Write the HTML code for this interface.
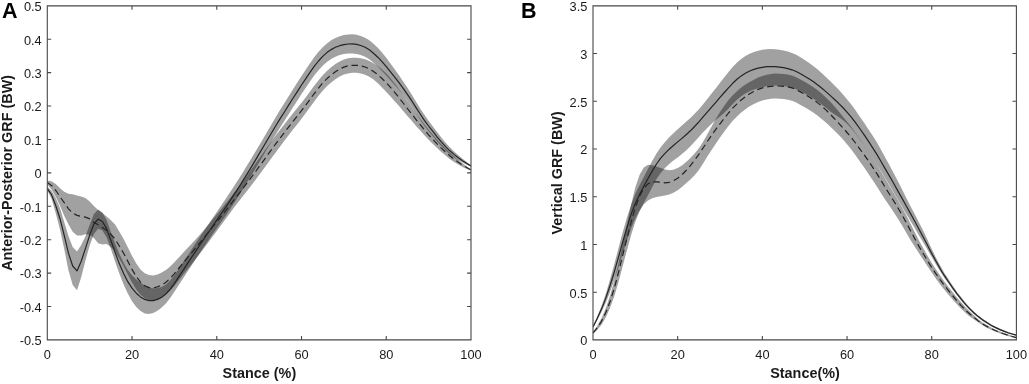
<!DOCTYPE html>
<html><head><meta charset="utf-8"><title>GRF</title>
<style>
html,body{margin:0;padding:0;background:#fff}
svg{display:block}
text{font-family:"Liberation Sans",sans-serif;fill:#1a1a1a}
.tk{font-size:12.8px}
.lb{font-size:14.4px;font-weight:bold}
.pl{font-size:21.5px;font-weight:bold;fill:#000}
.bd{fill:#000;fill-opacity:0.37;stroke:none}
.ln{fill:none;stroke:#242424;stroke-width:1.2;stroke-linejoin:round}
.ds{stroke-dasharray:6.5 3.9}
</style></head><body>
<svg width="1029" height="384" viewBox="0 0 1029 384">
<rect width="1029" height="384" fill="#fff"/>
<clipPath id="ca"><rect x="47.3" y="5.85" width="423.7" height="334.04999999999995"/></clipPath>
<g clip-path="url(#ca)">
<path d="M47.3,186.5 L51.5,190.8 L55.8,198.2 L60.0,208.0 L64.2,222.0 L68.5,236.2 L72.7,247.1 L77.0,251.5 L81.2,245.0 L85.4,236.4 L89.7,224.8 L93.9,214.0 L98.1,209.4 L102.4,212.4 L106.6,220.1 L110.9,231.9 L115.1,243.2 L119.3,253.7 L123.6,262.7 L127.8,269.9 L132.0,275.3 L136.3,279.4 L140.5,282.7 L144.8,285.4 L149.0,287.4 L153.2,288.3 L157.5,288.1 L161.7,286.9 L165.9,284.4 L170.2,280.4 L174.4,275.0 L178.6,268.9 L182.9,262.6 L187.1,256.2 L191.4,249.7 L195.6,243.3 L199.8,237.0 L204.1,230.7 L208.3,224.5 L212.5,218.2 L216.8,212.0 L221.0,205.7 L225.3,199.4 L229.5,193.1 L233.7,186.7 L238.0,180.1 L242.2,173.4 L246.4,166.6 L250.7,159.6 L254.9,152.6 L259.1,145.4 L263.4,138.2 L267.6,130.9 L271.9,123.7 L276.1,116.6 L280.3,109.6 L284.6,102.7 L288.8,96.0 L293.0,89.2 L297.3,82.5 L301.5,75.9 L305.8,69.4 L310.0,63.2 L314.2,57.2 L318.5,51.8 L322.7,47.2 L326.9,43.4 L331.2,40.3 L335.4,37.9 L339.7,36.2 L343.9,35.1 L348.1,34.5 L352.4,34.3 L356.6,34.8 L360.8,35.9 L365.1,37.7 L369.3,40.3 L373.5,43.7 L377.8,47.8 L382.0,52.5 L386.3,57.8 L390.5,63.5 L394.7,69.3 L399.0,75.3 L403.2,81.4 L407.4,87.8 L411.7,94.5 L415.9,101.5 L420.2,108.4 L424.4,114.8 L428.6,120.8 L432.9,126.5 L437.1,132.1 L441.3,137.6 L445.6,142.7 L449.8,147.2 L454.1,151.4 L458.3,155.2 L462.5,158.7 L466.8,162.1 L471.0,165.4 L471.0,166.6 L466.8,164.7 L462.5,162.6 L458.3,160.2 L454.1,157.4 L449.8,154.3 L445.6,150.6 L441.3,146.2 L437.1,141.4 L432.9,136.3 L428.6,131.2 L424.4,125.7 L420.2,119.7 L415.9,113.3 L411.7,106.8 L407.4,100.7 L403.2,95.1 L399.0,90.0 L394.7,85.1 L390.5,80.2 L386.3,75.5 L382.0,71.0 L377.8,66.6 L373.5,62.7 L369.3,59.3 L365.1,56.8 L360.8,55.0 L356.6,54.0 L352.4,53.5 L348.1,53.6 L343.9,54.1 L339.7,55.1 L335.4,56.7 L331.2,58.9 L326.9,61.9 L322.7,65.7 L318.5,70.2 L314.2,75.6 L310.0,81.5 L305.8,87.7 L301.5,94.1 L297.3,100.7 L293.0,107.3 L288.8,113.9 L284.6,120.6 L280.3,127.3 L276.1,134.0 L271.9,141.0 L267.6,148.1 L263.4,155.2 L259.1,162.4 L254.9,169.6 L250.7,176.6 L246.4,183.6 L242.2,190.4 L238.0,197.1 L233.7,203.7 L229.5,210.0 L225.3,216.2 L221.0,222.3 L216.8,228.3 L212.5,234.3 L208.3,240.5 L204.1,246.7 L199.8,253.0 L195.6,259.3 L191.4,265.7 L187.1,272.2 L182.9,278.7 L178.6,285.2 L174.4,291.8 L170.2,298.1 L165.9,303.4 L161.7,307.6 L157.5,310.7 L153.2,312.9 L149.0,313.9 L144.8,313.4 L140.5,311.1 L136.3,307.0 L132.0,301.2 L127.8,293.6 L123.6,284.4 L119.3,273.6 L115.1,261.6 L110.9,249.1 L106.6,237.2 L102.4,230.6 L98.1,228.8 L93.9,234.0 L89.7,245.4 L85.4,260.7 L81.2,277.3 L77.0,290.3 L72.7,284.9 L68.5,270.6 L64.2,248.9 L60.0,229.4 L55.8,213.5 L51.5,198.6 L47.3,190.5Z" class="bd"/>
<path d="M47.3,180.5 L51.5,181.2 L55.8,184.1 L60.0,188.3 L64.2,191.7 L68.5,193.7 L72.7,194.2 L77.0,195.4 L81.2,196.5 L85.4,198.1 L89.7,201.4 L93.9,206.1 L98.1,209.9 L102.4,213.1 L106.6,216.5 L110.9,220.2 L115.1,224.6 L119.3,231.5 L123.6,238.9 L127.8,247.2 L132.0,255.8 L136.3,263.6 L140.5,269.4 L144.8,273.2 L149.0,275.1 L153.2,275.4 L157.5,274.4 L161.7,272.6 L165.9,270.0 L170.2,266.5 L174.4,262.3 L178.6,257.8 L182.9,253.1 L187.1,248.5 L191.4,244.0 L195.6,239.4 L199.8,234.7 L204.1,229.8 L208.3,224.7 L212.5,219.6 L216.8,214.5 L221.0,209.4 L225.3,204.1 L229.5,198.7 L233.7,193.3 L238.0,187.8 L242.2,182.2 L246.4,176.4 L250.7,170.5 L254.9,164.5 L259.1,158.4 L263.4,152.4 L267.6,146.5 L271.9,140.7 L276.1,135.0 L280.3,129.4 L284.6,123.9 L288.8,118.5 L293.0,113.2 L297.3,108.0 L301.5,102.7 L305.8,97.2 L310.0,91.4 L314.2,85.7 L318.5,80.3 L322.7,75.3 L326.9,71.0 L331.2,67.3 L335.4,64.1 L339.7,61.5 L343.9,59.5 L348.1,58.3 L352.4,57.8 L356.6,57.8 L360.8,58.2 L365.1,59.3 L369.3,60.9 L373.5,63.2 L377.8,66.0 L382.0,69.4 L386.3,73.4 L390.5,78.2 L394.7,83.5 L399.0,89.2 L403.2,95.1 L407.4,101.1 L411.7,107.1 L415.9,113.0 L420.2,118.8 L424.4,124.4 L428.6,129.7 L432.9,134.8 L437.1,139.6 L441.3,144.2 L445.6,148.5 L449.8,152.6 L454.1,156.3 L458.3,159.9 L462.5,163.2 L466.8,166.4 L471.0,169.4 L471.0,170.6 L466.8,168.9 L462.5,166.9 L458.3,164.6 L454.1,161.9 L449.8,158.9 L445.6,155.5 L441.3,152.0 L437.1,148.1 L432.9,144.1 L428.6,139.8 L424.4,135.3 L420.2,130.6 L415.9,125.7 L411.7,120.8 L407.4,115.9 L403.2,110.9 L399.0,106.0 L394.7,101.2 L390.5,96.5 L386.3,92.0 L382.0,87.6 L377.8,83.3 L373.5,79.6 L369.3,76.7 L365.1,74.7 L360.8,73.4 L356.6,72.8 L352.4,72.8 L348.1,73.4 L343.9,74.6 L339.7,76.6 L335.4,79.2 L331.2,82.5 L326.9,86.3 L322.7,90.7 L318.5,95.8 L314.2,101.4 L310.0,107.3 L305.8,113.1 L301.5,118.8 L297.3,124.2 L293.0,129.6 L288.8,135.0 L284.6,140.6 L280.3,146.2 L276.1,151.9 L271.9,157.6 L267.6,163.4 L263.4,169.2 L259.1,175.0 L254.9,180.7 L250.7,186.2 L246.4,191.7 L242.2,197.1 L238.0,202.5 L233.7,208.0 L229.5,213.7 L225.3,219.4 L221.0,225.2 L216.8,231.0 L212.5,236.7 L208.3,242.4 L204.1,248.1 L199.8,253.8 L195.6,259.2 L191.4,264.5 L187.1,269.8 L182.9,275.1 L178.6,280.6 L174.4,285.9 L170.2,290.8 L165.9,294.8 L161.7,297.6 L157.5,299.4 L153.2,300.4 L149.0,300.1 L144.8,298.3 L140.5,294.8 L136.3,289.6 L132.0,282.6 L127.8,274.4 L123.6,266.2 L119.3,258.7 L115.1,251.6 L110.9,246.9 L106.6,244.1 L102.4,244.5 L98.1,243.2 L93.9,238.1 L89.7,234.7 L85.4,234.3 L81.2,235.5 L77.0,235.6 L72.7,231.8 L68.5,224.5 L64.2,215.8 L60.0,205.8 L55.8,196.9 L51.5,189.5 L47.3,184.6Z" class="bd"/>
<path d="M47.3,188.5 L51.5,194.7 L55.8,205.8 L60.0,218.7 L64.2,235.4 L68.5,253.4 L72.7,266.0 L77.0,270.9 L81.2,261.2 L85.4,248.6 L89.7,235.1 L93.9,224.0 L98.1,219.1 L102.4,221.5 L106.6,228.6 L110.9,240.5 L115.1,252.4 L119.3,263.6 L123.6,273.5 L127.8,281.7 L132.0,288.2 L136.3,293.2 L140.5,296.9 L144.8,299.4 L149.0,300.6 L153.2,300.6 L157.5,299.4 L161.7,297.2 L165.9,293.9 L170.2,289.2 L174.4,283.4 L178.6,277.1 L182.9,270.6 L187.1,264.2 L191.4,257.7 L195.6,251.3 L199.8,245.0 L204.1,238.7 L208.3,232.5 L212.5,226.3 L216.8,220.1 L221.0,214.0 L225.3,207.8 L229.5,201.6 L233.7,195.2 L238.0,188.6 L242.2,181.9 L246.4,175.1 L250.7,168.1 L254.9,161.1 L259.1,153.9 L263.4,146.7 L267.6,139.5 L271.9,132.3 L276.1,125.3 L280.3,118.4 L284.6,111.7 L288.8,104.9 L293.0,98.2 L297.3,91.6 L301.5,85.0 L305.8,78.6 L310.0,72.3 L314.2,66.4 L318.5,61.0 L322.7,56.4 L326.9,52.6 L331.2,49.6 L335.4,47.3 L339.7,45.7 L343.9,44.6 L348.1,44.0 L352.4,43.9 L356.6,44.4 L360.8,45.5 L365.1,47.2 L369.3,49.8 L373.5,53.2 L377.8,57.2 L382.0,61.7 L386.3,66.7 L390.5,71.9 L394.7,77.2 L399.0,82.6 L403.2,88.3 L407.4,94.3 L411.7,100.7 L415.9,107.4 L420.2,114.0 L424.4,120.3 L428.6,126.0 L432.9,131.4 L437.1,136.8 L441.3,141.9 L445.6,146.6 L449.8,150.8 L454.1,154.4 L458.3,157.7 L462.5,160.7 L466.8,163.4 L471.0,166.0" class="ln"/>
<path d="M47.3,182.5 L51.5,185.4 L55.8,190.5 L60.0,196.8 L64.2,202.7 L68.5,208.8 L72.7,213.1 L77.0,215.4 L81.2,216.4 L85.4,217.1 L89.7,218.9 L93.9,222.2 L98.1,224.8 L102.4,227.4 L106.6,230.5 L110.9,234.4 L115.1,239.1 L119.3,246.0 L123.6,253.2 L127.8,261.2 L132.0,269.4 L136.3,276.6 L140.5,282.1 L144.8,285.8 L149.0,287.6 L153.2,287.9 L157.5,286.9 L161.7,285.1 L165.9,282.3 L170.2,278.4 L174.4,273.7 L178.6,268.5 L182.9,263.3 L187.1,258.1 L191.4,253.1 L195.6,248.1 L199.8,243.0 L204.1,237.7 L208.3,232.4 L212.5,227.2 L216.8,221.9 L221.0,216.6 L225.3,211.2 L229.5,205.8 L233.7,200.3 L238.0,194.9 L242.2,189.4 L246.4,183.8 L250.7,178.2 L254.9,172.5 L259.1,166.6 L263.4,160.8 L267.6,154.9 L271.9,149.1 L276.1,143.4 L280.3,137.8 L284.6,132.2 L288.8,126.8 L293.0,121.4 L297.3,116.1 L301.5,110.7 L305.8,105.1 L310.0,99.4 L314.2,93.6 L318.5,88.1 L322.7,83.0 L326.9,78.7 L331.2,74.9 L335.4,71.7 L339.7,69.0 L343.9,67.1 L348.1,65.8 L352.4,65.3 L356.6,65.3 L360.8,65.8 L365.1,67.0 L369.3,68.8 L373.5,71.4 L377.8,74.7 L382.0,78.5 L386.3,82.7 L390.5,87.4 L394.7,92.3 L399.0,97.6 L403.2,103.0 L407.4,108.5 L411.7,114.0 L415.9,119.4 L420.2,124.7 L424.4,129.8 L428.6,134.8 L432.9,139.4 L437.1,143.9 L441.3,148.1 L445.6,152.0 L449.8,155.7 L454.1,159.1 L458.3,162.2 L462.5,165.0 L466.8,167.6 L471.0,170.0" class="ln ds"/>
</g>
<clipPath id="cb"><rect x="593.0" y="5.85" width="423.4" height="334.04999999999995"/></clipPath>
<g clip-path="url(#cb)">
<path d="M593.0,326.2 L597.2,316.6 L601.5,306.1 L605.7,294.0 L609.9,280.1 L614.2,264.6 L618.4,248.5 L622.6,232.6 L626.9,217.8 L631.1,204.7 L635.3,194.0 L639.6,185.1 L643.8,177.0 L648.0,168.8 L652.3,160.8 L656.5,153.5 L660.7,147.3 L665.0,142.0 L669.2,137.3 L673.4,133.2 L677.7,129.3 L681.9,125.5 L686.1,121.8 L690.4,118.0 L694.6,113.8 L698.9,109.2 L703.1,104.2 L707.3,99.0 L711.6,93.6 L715.8,88.2 L720.0,82.7 L724.3,77.2 L728.5,71.9 L732.7,67.0 L737.0,62.6 L741.2,59.0 L745.4,56.0 L749.7,53.7 L753.9,52.0 L758.1,50.8 L762.4,49.8 L766.6,49.2 L770.8,49.0 L775.1,49.2 L779.3,49.7 L783.5,50.5 L787.8,51.5 L792.0,52.9 L796.2,54.8 L800.5,57.2 L804.7,59.9 L808.9,62.8 L813.2,66.0 L817.4,69.3 L821.6,72.9 L825.9,76.9 L830.1,81.0 L834.3,85.3 L838.6,89.6 L842.8,94.2 L847.0,99.2 L851.3,104.5 L855.5,110.3 L859.7,116.4 L864.0,122.6 L868.2,128.9 L872.4,135.3 L876.7,142.1 L880.9,149.4 L885.1,157.2 L889.4,165.1 L893.6,172.9 L897.8,181.1 L902.1,189.6 L906.3,198.1 L910.5,206.3 L914.8,214.3 L919.0,222.4 L923.3,230.8 L927.5,239.8 L931.7,248.9 L936.0,257.7 L940.2,265.6 L944.4,272.9 L948.7,279.6 L952.9,285.9 L957.1,291.9 L961.4,297.6 L965.6,302.8 L969.8,307.5 L974.1,311.7 L978.3,315.5 L982.5,318.7 L986.8,321.6 L991.0,324.2 L995.2,326.5 L999.5,328.5 L1003.7,330.3 L1007.9,331.8 L1012.2,333.2 L1016.4,334.4 L1016.4,336.0 L1012.2,334.8 L1007.9,333.5 L1003.7,332.0 L999.5,330.3 L995.2,328.3 L991.0,326.2 L986.8,323.7 L982.5,320.9 L978.3,317.8 L974.1,314.2 L969.8,310.2 L965.6,305.7 L961.4,300.9 L957.1,295.6 L952.9,290.0 L948.7,284.1 L944.4,278.0 L940.2,271.5 L936.0,264.4 L931.7,257.1 L927.5,249.7 L923.3,242.5 L919.0,235.4 L914.8,228.2 L910.5,221.0 L906.3,213.9 L902.1,206.7 L897.8,199.4 L893.6,192.2 L889.4,185.1 L885.1,178.1 L880.9,171.1 L876.7,164.2 L872.4,157.6 L868.2,151.4 L864.0,145.3 L859.7,139.3 L855.5,133.5 L851.3,128.3 L847.0,123.7 L842.8,120.0 L838.6,117.1 L834.3,114.3 L830.1,111.2 L825.9,107.8 L821.6,104.5 L817.4,101.4 L813.2,98.5 L808.9,95.8 L804.7,93.4 L800.5,91.2 L796.2,89.3 L792.0,87.8 L787.8,86.8 L783.5,86.1 L779.3,85.7 L775.1,85.5 L770.8,85.7 L766.6,86.3 L762.4,87.2 L758.1,88.3 L753.9,89.6 L749.7,91.3 L745.4,93.5 L741.2,96.3 L737.0,99.8 L732.7,104.0 L728.5,108.5 L724.3,112.7 L720.0,116.5 L715.8,120.0 L711.6,123.7 L707.3,127.9 L703.1,132.3 L698.9,137.0 L694.6,141.7 L690.4,146.3 L686.1,150.5 L681.9,154.1 L677.7,157.4 L673.4,160.6 L669.2,164.0 L665.0,168.0 L660.7,172.9 L656.5,179.1 L652.3,186.9 L648.0,195.2 L643.8,203.1 L639.6,210.5 L635.3,218.6 L631.1,228.5 L626.9,240.6 L622.6,253.9 L618.4,267.4 L614.2,280.3 L609.9,292.2 L605.7,302.9 L601.5,312.1 L597.2,320.3 L593.0,327.8Z" class="bd"/>
<path d="M593.0,332.2 L597.2,326.0 L601.5,318.3 L605.7,308.5 L609.9,296.2 L614.2,281.1 L618.4,263.5 L622.6,244.2 L626.9,224.2 L631.1,204.7 L635.3,187.5 L639.6,174.7 L643.8,167.4 L648.0,164.8 L652.3,165.2 L656.5,166.5 L660.7,168.1 L665.0,169.6 L669.2,170.2 L673.4,169.7 L677.7,168.0 L681.9,165.4 L686.1,162.0 L690.4,158.1 L694.6,153.6 L698.9,148.3 L703.1,141.8 L707.3,134.3 L711.6,126.5 L715.8,119.0 L720.0,112.0 L724.3,105.8 L728.5,100.1 L732.7,95.3 L737.0,91.2 L741.2,87.6 L745.4,84.6 L749.7,82.0 L753.9,79.7 L758.1,77.6 L762.4,75.9 L766.6,74.7 L770.8,74.0 L775.1,73.6 L779.3,73.7 L783.5,73.9 L787.8,74.4 L792.0,75.4 L796.2,77.2 L800.5,79.4 L804.7,81.8 L808.9,84.3 L813.2,87.0 L817.4,90.1 L821.6,93.5 L825.9,97.4 L830.1,101.6 L834.3,106.2 L838.6,111.2 L842.8,116.4 L847.0,121.7 L851.3,127.1 L855.5,132.8 L859.7,138.8 L864.0,145.0 L868.2,151.2 L872.4,157.6 L876.7,164.3 L880.9,171.4 L885.1,178.6 L889.4,185.7 L893.6,192.7 L897.8,199.9 L902.1,207.4 L906.3,215.3 L910.5,223.7 L914.8,232.2 L919.0,240.5 L923.3,248.3 L927.5,255.8 L931.7,262.8 L936.0,269.4 L940.2,275.6 L944.4,281.5 L948.7,287.2 L952.9,292.6 L957.1,297.8 L961.4,302.6 L965.6,307.2 L969.8,311.5 L974.1,315.5 L978.3,319.2 L982.5,322.4 L986.8,325.1 L991.0,327.5 L995.2,329.5 L999.5,331.3 L1003.7,332.9 L1007.9,334.3 L1012.2,335.7 L1016.4,336.9 L1016.4,338.5 L1012.2,337.3 L1007.9,336.0 L1003.7,334.7 L999.5,333.2 L995.2,331.6 L991.0,329.8 L986.8,327.7 L982.5,325.3 L978.3,322.6 L974.1,319.6 L969.8,316.5 L965.6,313.0 L961.4,309.0 L957.1,304.6 L952.9,299.8 L948.7,294.9 L944.4,289.8 L940.2,284.4 L936.0,278.8 L931.7,272.6 L927.5,266.2 L923.3,259.7 L919.0,253.3 L914.8,246.7 L910.5,239.9 L906.3,232.7 L902.1,225.5 L897.8,218.6 L893.6,212.1 L889.4,205.8 L885.1,199.5 L880.9,193.0 L876.7,186.3 L872.4,179.7 L868.2,173.4 L864.0,167.3 L859.7,161.2 L855.5,155.2 L851.3,149.5 L847.0,144.3 L842.8,139.3 L838.6,134.8 L834.3,130.5 L830.1,126.4 L825.9,122.6 L821.6,118.9 L817.4,115.6 L813.2,112.5 L808.9,109.8 L804.7,107.3 L800.5,104.9 L796.2,102.6 L792.0,100.8 L787.8,99.7 L783.5,99.0 L779.3,98.7 L775.1,98.6 L770.8,98.8 L766.6,99.4 L762.4,100.4 L758.1,101.9 L753.9,103.9 L749.7,106.3 L745.4,109.2 L741.2,112.5 L737.0,116.4 L732.7,120.8 L728.5,125.9 L724.3,131.6 L720.0,137.6 L715.8,143.8 L711.6,150.1 L707.3,156.6 L703.1,163.4 L698.9,169.9 L694.6,175.2 L690.4,179.4 L686.1,183.2 L681.9,187.0 L677.7,190.2 L673.4,192.7 L669.2,194.5 L665.0,195.6 L660.7,196.3 L656.5,197.1 L652.3,198.3 L648.0,200.4 L643.8,204.3 L639.6,211.3 L635.3,221.7 L631.1,235.1 L626.9,250.4 L622.6,266.5 L618.4,282.2 L614.2,296.5 L609.9,308.3 L605.7,317.6 L601.5,324.7 L597.2,329.9 L593.0,333.8Z" class="bd"/>
<path d="M593.0,327.0 L597.2,318.4 L601.5,309.1 L605.7,298.4 L609.9,286.0 L614.2,272.2 L618.4,257.4 L622.6,242.3 L626.9,227.6 L631.1,214.4 L635.3,203.5 L639.6,194.4 L643.8,186.3 L648.0,178.5 L652.3,170.9 L656.5,164.0 L660.7,158.2 L665.0,153.4 L669.2,149.2 L673.4,145.5 L677.7,141.9 L681.9,138.4 L686.1,134.7 L690.4,130.8 L694.6,126.5 L698.9,121.8 L703.1,116.9 L707.3,112.1 L711.6,107.2 L715.8,102.3 L720.0,97.4 L724.3,92.5 L728.5,87.8 L732.7,83.3 L737.0,79.3 L741.2,75.9 L745.4,73.2 L749.7,71.0 L753.9,69.4 L758.1,68.2 L762.4,67.3 L766.6,66.7 L770.8,66.5 L775.1,66.6 L779.3,67.1 L783.5,67.7 L787.8,68.6 L792.0,69.8 L796.2,71.5 L800.5,73.7 L804.7,76.2 L808.9,78.8 L813.2,81.6 L817.4,84.7 L821.6,88.0 L825.9,91.6 L830.1,95.4 L834.3,99.3 L838.6,103.3 L842.8,107.5 L847.0,112.1 L851.3,117.1 L855.5,122.6 L859.7,128.5 L864.0,134.6 L868.2,140.9 L872.4,147.3 L876.7,154.1 L880.9,161.2 L885.1,168.6 L889.4,175.9 L893.6,183.3 L897.8,190.9 L902.1,198.4 L906.3,206.0 L910.5,213.6 L914.8,221.3 L919.0,229.2 L923.3,237.2 L927.5,245.2 L931.7,253.4 L936.0,261.3 L940.2,268.8 L944.4,275.7 L948.7,282.0 L952.9,288.1 L957.1,293.8 L961.4,299.3 L965.6,304.3 L969.8,308.9 L974.1,313.0 L978.3,316.6 L982.5,319.8 L986.8,322.6 L991.0,325.2 L995.2,327.4 L999.5,329.4 L1003.7,331.1 L1007.9,332.7 L1012.2,334.0 L1016.4,335.2" class="ln"/>
<path d="M593.0,333.0 L597.2,327.8 L601.5,321.3 L605.7,312.8 L609.9,302.0 L614.2,288.6 L618.4,272.8 L622.6,255.7 L626.9,238.5 L631.1,222.1 L635.3,207.5 L639.6,196.0 L643.8,188.2 L648.0,183.8 L652.3,182.0 L656.5,181.8 L660.7,182.3 L665.0,182.8 L669.2,182.3 L673.4,180.8 L677.7,178.2 L681.9,174.8 L686.1,170.5 L690.4,165.6 L694.6,160.2 L698.9,154.3 L703.1,148.0 L707.3,141.5 L711.6,135.3 L715.8,129.4 L720.0,123.8 L724.3,118.3 L728.5,113.0 L732.7,108.1 L737.0,103.8 L741.2,100.0 L745.4,96.7 L749.7,93.8 L753.9,91.4 L758.1,89.4 L762.4,87.9 L766.6,86.9 L770.8,86.3 L775.1,86.0 L779.3,86.0 L783.5,86.3 L787.8,86.9 L792.0,87.9 L796.2,89.7 L800.5,91.9 L804.7,94.3 L808.9,96.8 L813.2,99.5 L817.4,102.6 L821.6,106.0 L825.9,109.9 L830.1,114.1 L834.3,118.5 L838.6,123.1 L842.8,127.7 L847.0,132.5 L851.3,137.6 L855.5,143.0 L859.7,148.8 L864.0,154.6 L868.2,160.6 L872.4,166.8 L876.7,173.4 L880.9,180.2 L885.1,187.2 L889.4,194.0 L893.6,200.8 L897.8,207.7 L902.1,214.9 L906.3,222.7 L910.5,230.7 L914.8,238.7 L919.0,246.4 L923.3,253.7 L927.5,260.7 L931.7,267.5 L936.0,273.8 L940.2,279.8 L944.4,285.4 L948.7,290.8 L952.9,296.0 L957.1,301.0 L961.4,305.8 L965.6,310.1 L969.8,314.0 L974.1,317.6 L978.3,320.9 L982.5,323.8 L986.8,326.4 L991.0,328.6 L995.2,330.5 L999.5,332.2 L1003.7,333.8 L1007.9,335.2 L1012.2,336.5 L1016.4,337.7" class="ln ds"/>
</g>
<text x="47.3" y="358.8" text-anchor="middle" class="tk">0</text>
<text x="132.0" y="358.8" text-anchor="middle" class="tk">20</text>
<text x="216.8" y="358.8" text-anchor="middle" class="tk">40</text>
<text x="301.5" y="358.8" text-anchor="middle" class="tk">60</text>
<text x="386.3" y="358.8" text-anchor="middle" class="tk">80</text>
<text x="471.0" y="358.8" text-anchor="middle" class="tk">100</text>
<text x="41.7" y="345.2" text-anchor="end" class="tk">-0.5</text>
<text x="41.7" y="311.8" text-anchor="end" class="tk">-0.4</text>
<text x="41.7" y="278.4" text-anchor="end" class="tk">-0.3</text>
<text x="41.7" y="245.0" text-anchor="end" class="tk">-0.2</text>
<text x="41.7" y="211.6" text-anchor="end" class="tk">-0.1</text>
<text x="41.7" y="178.2" text-anchor="end" class="tk">0</text>
<text x="41.7" y="144.8" text-anchor="end" class="tk">0.1</text>
<text x="41.7" y="111.4" text-anchor="end" class="tk">0.2</text>
<text x="41.7" y="78.0" text-anchor="end" class="tk">0.3</text>
<text x="41.7" y="44.6" text-anchor="end" class="tk">0.4</text>
<text x="41.7" y="11.2" text-anchor="end" class="tk">0.5</text>
<path d="M47.3,5.85H471.0V339.9H47.3ZM132.04,339.9v-3.9M132.04,5.85v3.9M216.78,339.9v-3.9M216.78,5.85v3.9M301.52,339.9v-3.9M301.52,5.85v3.9M386.26,339.9v-3.9M386.26,5.85v3.9M47.3,306.50h3.9M471.0,306.50h-3.9M47.3,273.09h3.9M471.0,273.09h-3.9M47.3,239.69h3.9M471.0,239.69h-3.9M47.3,206.28h3.9M471.0,206.28h-3.9M47.3,172.88h3.9M471.0,172.88h-3.9M47.3,139.47h3.9M471.0,139.47h-3.9M47.3,106.07h3.9M471.0,106.07h-3.9M47.3,72.66h3.9M471.0,72.66h-3.9M47.3,39.25h3.9M471.0,39.25h-3.9" fill="none" stroke="#484848" stroke-width="1.1"/>
<text x="259.4" y="378" text-anchor="middle" class="lb">Stance (%)</text>
<text transform="translate(11.9,172.9) rotate(-90)" text-anchor="middle" class="lb">Anterior-Posterior GRF (BW)</text>
<text x="2" y="18" class="pl">A</text>
<text x="593.0" y="358.8" text-anchor="middle" class="tk">0</text>
<text x="677.7" y="358.8" text-anchor="middle" class="tk">20</text>
<text x="762.4" y="358.8" text-anchor="middle" class="tk">40</text>
<text x="847.0" y="358.8" text-anchor="middle" class="tk">60</text>
<text x="931.7" y="358.8" text-anchor="middle" class="tk">80</text>
<text x="1016.4" y="358.8" text-anchor="middle" class="tk">100</text>
<text x="587.4" y="345.2" text-anchor="end" class="tk">0</text>
<text x="587.4" y="297.5" text-anchor="end" class="tk">0.5</text>
<text x="587.4" y="249.8" text-anchor="end" class="tk">1</text>
<text x="587.4" y="202.0" text-anchor="end" class="tk">1.5</text>
<text x="587.4" y="154.3" text-anchor="end" class="tk">2</text>
<text x="587.4" y="106.6" text-anchor="end" class="tk">2.5</text>
<text x="587.4" y="58.9" text-anchor="end" class="tk">3</text>
<text x="587.4" y="11.2" text-anchor="end" class="tk">3.5</text>
<path d="M593.0,5.85H1016.4V339.9H593.0ZM677.68,339.9v-3.9M677.68,5.85v3.9M762.36,339.9v-3.9M762.36,5.85v3.9M847.04,339.9v-3.9M847.04,5.85v3.9M931.72,339.9v-3.9M931.72,5.85v3.9M593.0,292.18h3.9M1016.4,292.18h-3.9M593.0,244.46h3.9M1016.4,244.46h-3.9M593.0,196.74h3.9M1016.4,196.74h-3.9M593.0,149.01h3.9M1016.4,149.01h-3.9M593.0,101.29h3.9M1016.4,101.29h-3.9M593.0,53.57h3.9M1016.4,53.57h-3.9" fill="none" stroke="#484848" stroke-width="1.1"/>
<text x="805" y="378" text-anchor="middle" class="lb">Stance(%)</text>
<text transform="translate(561.8,172.9) rotate(-90)" text-anchor="middle" class="lb">Vertical GRF (BW)</text>
<text x="521" y="18" class="pl">B</text>
</svg>
</body></html>
